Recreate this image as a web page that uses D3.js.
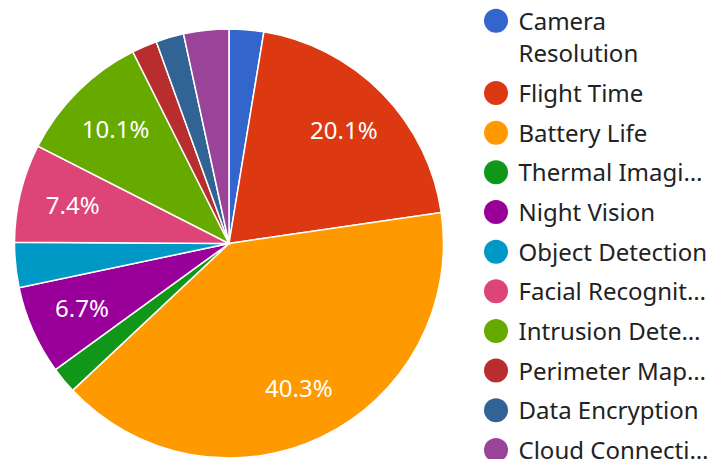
<!DOCTYPE html>
<html>
<head>
<meta charset="utf-8">
<script src="https://cdn.jsdelivr.net/npm/d3@7"></script>
<style>
  body { margin: 0; background: #fff; }
  svg { display: block; font-family: "Noto Sans", sans-serif; }
</style>
</head>
<body>
<div id="chart"></div>
<script>
var categories = ["Camera Resolution", "Flight Time", "Battery Life", "Thermal Imaging",
  "Night Vision", "Object Detection", "Facial Recognition", "Intrusion Detection",
  "Perimeter Mapping", "Data Encryption", "Cloud Connectivity"];
var values = [2.6, 20.1, 40.3, 2.0, 6.7, 3.4, 7.4, 10.1, 1.9, 2.1, 3.4];
var colors = ["#3366cc", "#dc3912", "#ff9900", "#109618", "#990099", "#0099c6",
  "#dd4477", "#66aa00", "#b82e2e", "#316395", "#994499"];
var wrapped = ["Camera Resolution"];

var width = 713, height = 459;
var cx = 229, cy = 243.5, radius = 214.5;

var svg = d3.select("#chart").append("svg")
  .attr("width", width)
  .attr("height", height);

var total = d3.sum(values);
var pie = d3.pie().sort(null).value(function(d){ return d; });
var arcs = pie(values);

var arc = d3.arc().innerRadius(0).outerRadius(radius);
var labelArc = d3.arc().innerRadius(radius * 0.75).outerRadius(radius * 0.75);

var g = svg.append("g").attr("transform", "translate(" + cx + "," + cy + ")");

g.selectAll("path.slice")
  .data(arcs)
  .enter()
  .append("path")
  .attr("class", "slice")
  .attr("d", arc)
  .attr("fill", function(d, i){ return colors[i]; })
  .attr("stroke", "#fff")
  .attr("stroke-width", 1.5);

// percentage labels on big slices only
g.selectAll("text.pct")
  .data(arcs.filter(function(d){ return d.value / total >= 0.05; }))
  .enter()
  .append("text")
  .attr("class", "pct")
  .attr("transform", function(d){ return "translate(" + labelArc.centroid(d) + ")"; })
  .attr("dy", "0.36em")
  .attr("text-anchor", "middle")
  .attr("fill", "#fff")
  .attr("font-size", 24)
  .text(function(d){ return (d.value / total * 100).toFixed(1) + "%"; });

// legend
var legendX = 496, textX = 518.5, maxW = width - textX - 2;
var y = 20.7;
var legend = svg.append("g");

categories.forEach(function(name, i) {
  legend.append("circle")
    .attr("cx", legendX)
    .attr("cy", y)
    .attr("r", 12)
    .attr("fill", colors[i]);

  var lines = wrapped.indexOf(name) >= 0 ? name.split(" ") : [name];
  lines.forEach(function(line, j) {
    var t = legend.append("text")
      .attr("x", textX)
      .attr("y", y + 9 + j * 32.7)
      .attr("font-size", 24)
      .attr("fill", "#222")
      .text(line);
    // cut long names with an ellipsis
    var s = line;
    while (t.node().getComputedTextLength() > maxW && s.length > 1) {
      s = s.slice(0, -1).replace(/\s+$/, "");
      t.text(s + "…");
    }
  });
  y += (lines.length - 1) * 32.7 + 39.65;
});
</script>
</body>
</html>
